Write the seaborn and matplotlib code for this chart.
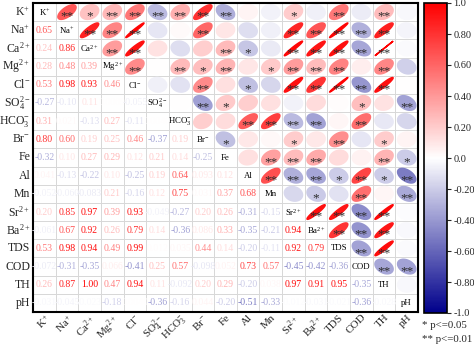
import numpy as np
import pandas as pd
import matplotlib
matplotlib.use("Agg")
import matplotlib.pyplot as plt
import seaborn as sns
from matplotlib.colors import LinearSegmentedColormap, ListedColormap, Normalize
from matplotlib.patches import Polygon
import matplotlib.cm as cm

# ---- data ----
variables = ["K+", "Na+", "Ca2+", "Mg2+", "Cl-", "SO42-", "HCO3-", "Br-", "Fe", "Al",
             "Mn", "Sr2+", "Ba2+", "TDS", "COD", "TH", "pH"]
tick_labels = [r"K$^{+}$", r"Na$^{+}$", r"Ca$^{2+}$", r"Mg$^{2+}$", r"Cl$^{-}$",
               r"SO$_4^{2-}$", r"HCO$_3^{-}$", r"Br$^{-}$", "Fe", "Al", "Mn",
               r"Sr$^{2+}$", r"Ba$^{2+}$", "TDS", "COD", "TH", "pH"]

# lower-triangle correlations (row i, columns 0..i-1)
r_Na = [0.65]
r_Ca = [0.24, 0.86]
r_Mg = [0.28, 0.48, 0.39]
r_Cl = [0.53, 0.98, 0.93, 0.46]
r_SO4 = [-0.27, -0.10, 0.11, 0.0069, -0.055]
r_HCO3 = [0.31, 0.021, -0.13, 0.27, -0.11, 0.004]
r_Br = [0.80, 0.60, 0.19, 0.25, 0.46, -0.37, 0.19]
r_Fe = [-0.32, 0.10, 0.27, 0.29, 0.12, 0.21, 0.14, -0.25]
r_Al = [0.041, -0.13, -0.22, 0.10, -0.25, 0.19, 0.64, 0.093, 0.12]
r_Mn = [-0.052, -0.060, -0.083, 0.21, -0.16, 0.12, 0.75, 0.031, 0.37, 0.68]
r_Sr = [0.20, 0.85, 0.97, 0.39, 0.93, -0.049, -0.27, 0.20, 0.26, -0.31, -0.15]
r_Ba = [-0.061, 0.67, 0.92, 0.26, 0.79, 0.14, -0.36, 0.086, 0.33, -0.35, -0.21, 0.94]
r_TDS = [0.53, 0.98, 0.94, 0.49, 0.99, 0.012, 0.035, 0.44, 0.14, -0.20, -0.11, 0.92, 0.79]
r_COD = [-0.072, -0.31, -0.35, 0.066, -0.41, 0.25, 0.57, -0.098, 0.052, 0.73, 0.57,
         -0.45, -0.42, -0.36]
r_TH = [0.26, 0.87, 1.00, 0.47, 0.94, 0.11, -0.092, 0.20, 0.29, -0.20, 0.038, 0.97,
        0.91, 0.95, -0.35]
r_pH = [-0.031, -0.045, -0.023, -0.18, 0.004, -0.36, -0.16, 0.044, -0.20, -0.51, -0.33,
        -0.012, -0.031, -0.021, -0.36, -0.028]

lower_rows = [[], r_Na, r_Ca, r_Mg, r_Cl, r_SO4, r_HCO3, r_Br, r_Fe, r_Al, r_Mn, r_Sr,
              r_Ba, r_TDS, r_COD, r_TH, r_pH]

# significance thresholds for |r| (n = 100 samples)
r_crit_05 = 0.197
r_crit_01 = 0.256

cbar_ticks = [1.0, 0.8, 0.6, 0.4, 0.2, 0.0, -0.2, -0.4, -0.6, -0.8, -1.0]
cbar_ticklabels = ["1.0", "0.80", "0.60", "0.40", "0.20", "0.0", "-0.20", "-0.40",
                   "-0.60", "-0.80", "-1.0"]

# ---- build matrix ----
n = len(variables)
R = np.eye(n)
for i, row in enumerate(lower_rows):
    for j, v in enumerate(row):
        R[i, j] = v
        R[j, i] = v
df = pd.DataFrame(R, index=variables, columns=variables)

# ---- style ----
sns.set_theme(style="white")
plt.rcParams["font.family"] = ["Liberation Serif", "DejaVu Serif"]
plt.rcParams["mathtext.fontset"] = "custom"
plt.rcParams["mathtext.rm"] = "Liberation Serif"
plt.rcParams["mathtext.it"] = "Liberation Serif:italic"
plt.rcParams["mathtext.bf"] = "Liberation Serif:bold"

cmap = LinearSegmentedColormap.from_list("bwr2", ["#00008B", "#FFFFFF", "#FF0000"])
norm = Normalize(vmin=-1, vmax=1)

W, H = 474, 345
fig = plt.figure(figsize=(W / 100, H / 100), dpi=100)
ax = fig.add_axes([33 / W, 1 - 312 / H, (418 - 33) / W, (312 - 3) / H])

sns.heatmap(df * 0, cmap=ListedColormap(["white"]), cbar=False,
            linewidths=0.6, linecolor="#d8d8d8", ax=ax,
            xticklabels=tick_labels, yticklabels=tick_labels)

def fmt(v):
    a = abs(v)
    if a >= 0.1:
        return f"{v:.2f}"
    if a == 0:
        return "0"
    d = int(-np.floor(np.log10(a))) + 1
    return f"{v:.{d}f}"

t = np.linspace(0, 2 * np.pi, 80)
for i in range(n):
    for j in range(n):
        v = R[i, j]
        cx, cy = j + 0.5, i + 0.5
        if i == j:
            ax.text(cx, cy, tick_labels[i], ha="center", va="center", fontsize=6.3,
                    color="black")
        elif i > j:
            ax.text(cx, cy, fmt(v), ha="center", va="center", fontsize=7,
                    color=cmap(norm(v)))
        else:
            d = np.arccos(np.clip(v, -1, 1))
            xs = cx + 0.4 * np.cos(t + d / 2)
            ys = cy - 0.4 * np.cos(t - d / 2)
            col = cmap(norm(v))
            ax.add_patch(Polygon(np.column_stack([xs, ys]), closed=True,
                                 facecolor=col, edgecolor=col, linewidth=1.1))
            a = abs(v)
            stars = "**" if a >= r_crit_01 else ("*" if a >= r_crit_05 else "")
            if stars:
                ax.text(cx, cy + 0.25, stars, ha="center", va="center", fontsize=9.5,
                        color="#2a2a2a")

ax.tick_params(axis="y", length=0, pad=2)
ax.tick_params(axis="x", length=0, pad=0.5)
ax.set_yticklabels(tick_labels, rotation=0, fontsize=8.5)
ax.set_xticklabels(tick_labels, rotation=45, ha="right", rotation_mode="anchor",
                   fontsize=8)
for s in ax.spines.values():
    s.set_visible(True)
    s.set_color("black")
    s.set_linewidth(1.5)

cax = fig.add_axes([424 / W, 1 - 313 / H, 23 / W, 310 / H])
sm = cm.ScalarMappable(norm=norm, cmap=cmap)
cb = fig.colorbar(sm, cax=cax)
cb.set_ticks(cbar_ticks)
cb.set_ticklabels(cbar_ticklabels)
cb.ax.tick_params(labelsize=7.5, length=3, width=0.8, direction="out", pad=1.5)
cb.outline.set_linewidth(1.2)
cb.outline.set_edgecolor("black")

fig.text(422 / W, 1 - 326 / H, "* p<=0.05", fontsize=7.8, va="center", ha="left")
fig.text(422 / W, 1 - 339 / H, "** p<=0.01", fontsize=7.8, va="center", ha="left")

fig.savefig("out.png", dpi=100)
